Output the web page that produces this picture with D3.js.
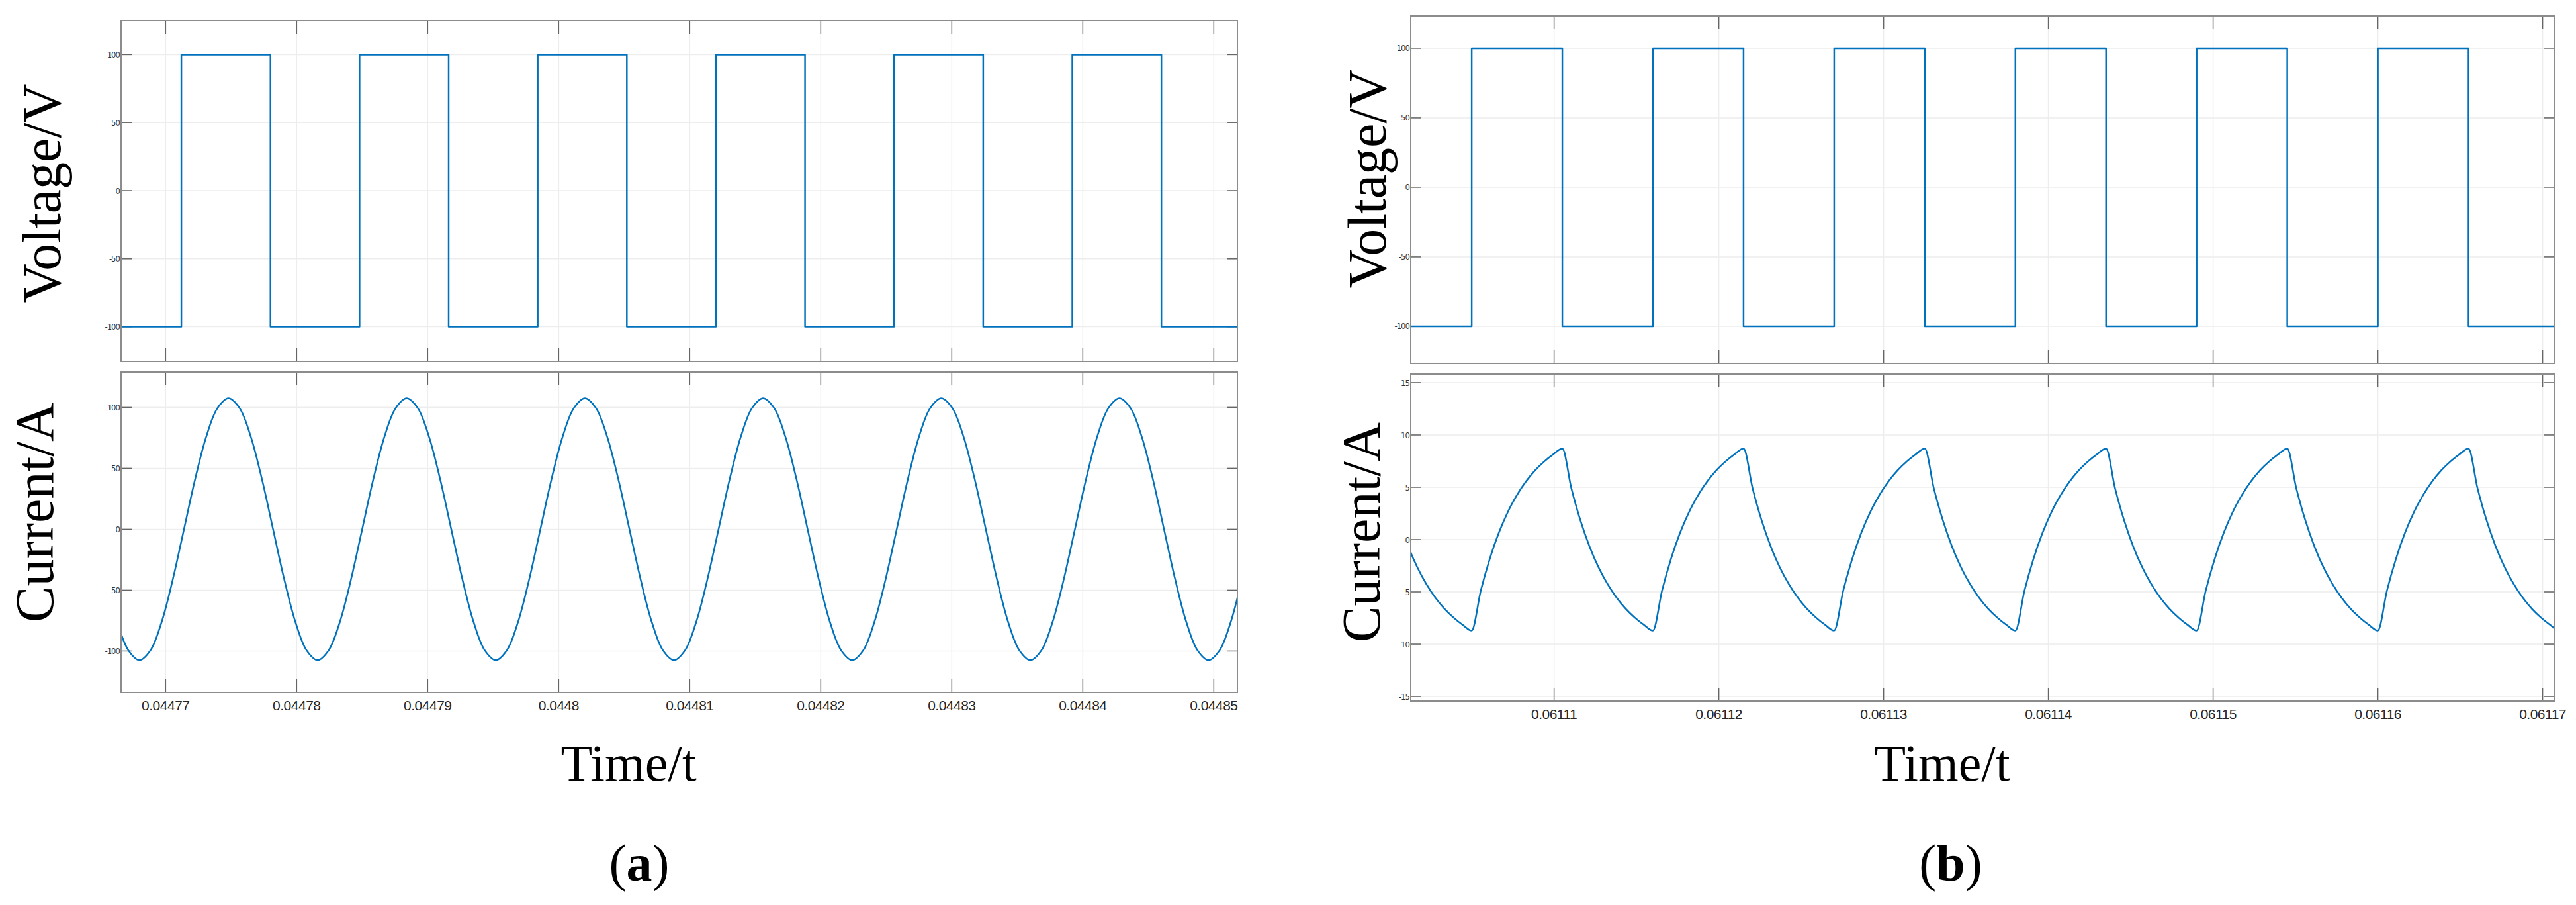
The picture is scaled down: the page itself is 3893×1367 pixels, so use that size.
<!DOCTYPE html>
<html><head><meta charset="utf-8">
<script src="https://cdn.jsdelivr.net/npm/d3@7"></script>
<style>body{margin:0;background:#fff}svg{display:block}</style>
</head><body>
<script>
// ---------- data ----------
const xTicksA = [0.04477,0.04478,0.04479,0.0448,0.04481,0.04482,0.04483,0.04484,0.04485];
const xTickLabelsA = ["0.04477","0.04478","0.04479","0.0448","0.04481","0.04482","0.04483","0.04484","0.04485"];
const xTicksB = [0.06111,0.06112,0.06113,0.06114,0.06115,0.06116,0.06117];
const xTickLabelsB = ["0.06111","0.06112","0.06113","0.06114","0.06115","0.06116","0.06117"];
const yTicksV = [-100,-50,0,50,100];
const yTicksIA = [-100,-50,0,50,100];
const yTicksIB = [-15,-10,-5,0,5,10,15];
// (a) voltage switching times
const riseA = [0.0447576,0.0447712,0.0447848,0.0447984,0.0448120,0.0448256,0.0448392,0.0448528];
const fallA = [0.0447644,0.0447780,0.0447916,0.0448052,0.0448188,0.0448324,0.0448460,0.0448596];
// (a) current: cycle start (trough) times and one-cycle profile (16 samples/period)
const troughA = [0.0447544,0.0447680,0.0447816,0.0447952,0.0448088,0.0448224,0.0448360,0.0448496,0.0448632];
const periodA = 0.0000136;
const profileA = [-107.5,-99.3,-76.0,-41.1,0,41.1,76.0,99.3,107.5,99.3,76.0,41.1,0,-41.1,-76.0,-99.3];
// (b) voltage switching times
const riseB = [0.0610940,0.0611050,0.0611160,0.0611270,0.0611380,0.0611490,0.0611600,0.0611710];
const fallB = [0.0610995,0.0611105,0.0611215,0.0611325,0.0611435,0.0611545,0.0611655,0.0611765];
// (b) current: rising half-cycle profile (11 samples between rise and fall); falling half is its mirror
const halfProfileB = [-8.70,-4.89,-1.82,0.66,2.66,4.27,5.57,6.62,7.46,8.15,8.70];
const domainA = [0.0447666,0.0448518];
const domainB = [0.0611013,0.0611707];

// ---------- build series ----------
function squareWave(rises, falls){
  const pts=[];
  for(let k=0;k<rises.length;k++){
    pts.push([rises[k],-100],[rises[k],100],[falls[k],100],[falls[k],-100]);
  }
  return pts;
}
const vA = squareWave(riseA,fallA), vB = squareWave(riseB,fallB);
const iA=[];
troughA.forEach(t0=>profileA.forEach((v,j)=>iA.push([t0+j*periodA/profileA.length,v])));
iA.push([troughA[troughA.length-1]+periodA,profileA[0]]);
const iB=[];
for(let k=0;k<riseB.length;k++){
  const r=riseB[k], f=fallB[k], n=riseB[k+1]!==undefined?riseB[k+1]:f+(f-r);
  halfProfileB.forEach((v,j)=>{ if(j<halfProfileB.length-1) iB.push([r+(f-r)*j/(halfProfileB.length-1),v]); });
  halfProfileB.forEach((v,j)=>{ if(j<halfProfileB.length-1) iB.push([f+(n-f)*j/(halfProfileB.length-1),-v]); });
}

// ---------- draw ----------
const W=3893,H=1367;
const svg=d3.select("body").append("svg").attr("width",W).attr("height",H);
const blue="#0072BD";
let clipId=0;
function panel(o){
  const x=d3.scaleLinear().domain(o.xd).range([o.x0,o.x1]);
  const y=d3.scaleLinear().domain(o.yd).range([o.y1,o.y0]);
  const g=svg.append("g");
  g.selectAll(null).data(o.xt).join("line").attr("x1",d=>x(d)).attr("x2",d=>x(d))
    .attr("y1",o.y0).attr("y2",o.y1).attr("stroke","#ededed").attr("stroke-width",1.5);
  g.selectAll(null).data(o.yt).join("line").attr("y1",d=>y(d)).attr("y2",d=>y(d))
    .attr("x1",o.x0).attr("x2",o.x1).attr("stroke","#ededed").attr("stroke-width",1.5);
  const tc="#666";
  o.xt.forEach(d=>{
    g.append("line").attr("x1",x(d)).attr("x2",x(d)).attr("y1",o.y0).attr("y2",o.y0+20).attr("stroke",tc).attr("stroke-width",1.5);
    g.append("line").attr("x1",x(d)).attr("x2",x(d)).attr("y1",o.y1).attr("y2",o.y1-20).attr("stroke",tc).attr("stroke-width",1.5);
  });
  o.yt.forEach(d=>{
    g.append("line").attr("y1",y(d)).attr("y2",y(d)).attr("x1",o.x0).attr("x2",o.x0+16).attr("stroke",tc).attr("stroke-width",1.5);
    g.append("line").attr("y1",y(d)).attr("y2",y(d)).attr("x1",o.x1).attr("x2",o.x1-16).attr("stroke",tc).attr("stroke-width",1.5);
  });
  g.selectAll(null).data(o.yt).join("text").attr("x",o.x0-2).attr("y",d=>y(d)).attr("dy","0.35em")
    .attr("text-anchor","end").attr("font-family","DejaVu Sans Condensed, Liberation Sans Narrow, Arial")
    .attr("font-stretch","condensed").attr("font-size",13).attr("fill","#333")
    .attr("letter-spacing",-1).text(d=>d);
  const id="c"+(clipId++);
  svg.append("clipPath").attr("id",id).append("rect").attr("x",o.x0).attr("y",o.y0).attr("width",o.x1-o.x0).attr("height",o.y1-o.y0);
  g.append("path").datum(o.data).attr("clip-path",`url(#${id})`).attr("fill","none").attr("stroke",blue)
    .attr("stroke-width",2.5).attr("stroke-linejoin","round")
    .attr("d",d3.line().x(d=>x(d[0])).y(d=>y(d[1])).curve(o.curve||d3.curveLinear));
  g.append("rect").attr("x",o.x0).attr("y",o.y0).attr("width",o.x1-o.x0).attr("height",o.y1-o.y0)
    .attr("fill","none").attr("stroke","#8c8c8c").attr("stroke-width",2);
  g.append("text").attr("transform",`translate(${o.tx},${o.ty}) rotate(-90)`)
    .attr("text-anchor","middle").attr("font-family","Liberation Serif, Times New Roman, serif")
    .attr("font-size",82).text(o.title);
  return x;
}
function xLabels(x,ticks,labels,yc){
  svg.append("g").selectAll("text").data(ticks).join("text").attr("x",d=>x(d)).attr("y",yc).attr("dy","0.35em")
    .attr("text-anchor","middle").attr("font-family","Liberation Sans, Arial, sans-serif")
    .attr("font-size",21).attr("fill","#262626").attr("letter-spacing",-0.5)
    .text((d,i)=>labels[i]);
}
function caption(cx,cx2,yTitle,yCap,letter){
  svg.append("text").attr("x",cx).attr("y",yTitle).attr("text-anchor","middle")
    .attr("font-family","Liberation Serif, Times New Roman, serif").attr("font-size",78).text("Time/t");
  const t=svg.append("text").attr("x",cx2).attr("y",yCap).attr("text-anchor","middle")
    .attr("font-family","Liberation Serif, Times New Roman, serif").attr("font-size",78);
  t.append("tspan").text("(");
  t.append("tspan").attr("font-weight","bold").text(letter);
  t.append("tspan").text(")");
}

// panel (a)
panel({x0:183,x1:1870,y0:31,y1:546,xd:domainA,yd:[-125.5,125],xt:xTicksA,yt:yTicksV,data:vA,title:"Voltage/V",tx:91,ty:292});
const xa=panel({x0:183,x1:1870,y0:562,y1:1046,xd:domainA,yd:[-134,129],xt:xTicksA,yt:yTicksIA,data:iA,curve:d3.curveCatmullRom,title:"Current/A",tx:80,ty:774});
xLabels(xa,xTicksA,xTickLabelsA,1066);
caption(950,966,1179,1330,"a");

// panel (b)
panel({x0:2132,x1:3860,y0:24,y1:549,xd:domainB,yd:[-126.7,123.3],xt:xTicksB,yt:yTicksV,data:vB,title:"Voltage/V",tx:2094,ty:270});
const xb=panel({x0:2132,x1:3860,y0:565,y1:1059,xd:domainB,yd:[-15.44,15.82],xt:xTicksB,yt:yTicksIB,data:iB,curve:d3.curveMonotoneX,title:"Current/A",tx:2085,ty:804});
xLabels(xb,xTicksB,xTickLabelsB,1079);
caption(2935,2948,1179,1330,"b");
</script>
</body></html>
